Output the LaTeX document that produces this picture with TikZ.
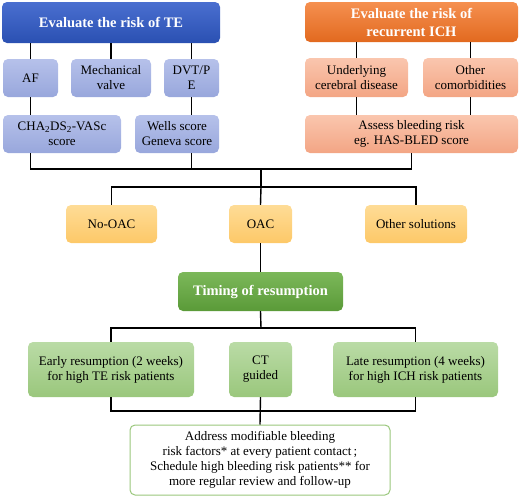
\documentclass[tikz,border=0pt]{standalone}
\usepackage{fontspec}
\setmainfont{Liberation Serif}
\begin{document}
\begin{tikzpicture}[x=1pt,y=-1pt,
  box/.style={rectangle,rounded corners=5pt,align=center,inner sep=1pt,font=\fontsize{13}{15}\selectfont,text=black},
  ttl/.style={box,font=\fontsize{14.5}{18}\selectfont\bfseries,text=white},
  bluet/.style={ttl,top color=blueA,bottom color=blueB},
  oranget/.style={ttl,top color=orA,bottom color=orB},
  greent/.style={ttl,top color=grA,bottom color=grB},
  blueb/.style={box,top color=lbA,bottom color=lbB},
  salb/.style={box,top color=saA,bottom color=saB},
  yelb/.style={box,top color=yeA,bottom color=yeB},
  lgrb/.style={box,top color=lgA,bottom color=lgB},
  wb/.style={box,fill=white,draw=lgB,line width=1pt},
  conn/.style={draw=black,line width=1.4pt}]
\definecolor{blueA}{HTML}{4A6FD0}
\definecolor{blueB}{HTML}{2A50B2}
\definecolor{orA}{HTML}{F59050}
\definecolor{orB}{HTML}{E2691F}
\definecolor{grA}{HTML}{7CB85A}
\definecolor{grB}{HTML}{5A9A38}
\definecolor{lbA}{HTML}{B6C1EA}
\definecolor{lbB}{HTML}{98A7DC}
\definecolor{saA}{HTML}{FAC6AE}
\definecolor{saB}{HTML}{F3A584}
\definecolor{yeA}{HTML}{FEDC96}
\definecolor{yeB}{HTML}{FDC868}
\definecolor{lgA}{HTML}{BADBA6}
\definecolor{lgB}{HTML}{9AC77C}
\useasboundingbox (0,0) rectangle (520,496);
% nodes
\node[bluet,minimum width=218pt,minimum height=41pt] (te) at (111,22.5) {Evaluate the risk of TE};
\node[oranget,minimum width=213pt,minimum height=40pt] (ich) at (411.5,22) {Evaluate the risk of\\recurrent ICH};
\node[blueb,minimum width=55pt,minimum height=38pt] (af) at (30.5,78) {AF};
\node[blueb,minimum width=80pt,minimum height=38pt] (mech) at (111,78) {Mechanical\\valve};
\node[blueb,minimum width=55pt,minimum height=38pt] (dvt) at (191.5,78) {DVT/P\\E};
\node[blueb,minimum width=118pt,minimum height=38pt] (cha) at (62,134) {CHA\textsubscript{2}DS\textsubscript{2}-VASc\\score};
\node[blueb,minimum width=84pt,minimum height=38pt] (wells) at (177,134) {Wells score\\Geneva score};
\node[salb,minimum width=103pt,minimum height=39pt] (under) at (356.5,77.5) {Underlying\\cerebral disease};
\node[salb,minimum width=95pt,minimum height=39pt] (other) at (470.5,77.5) {Other\\comorbidities};
\node[salb,minimum width=213pt,minimum height=38pt] (assess) at (411.5,134) {Assess bleeding risk\\eg. HAS-BLED score};
\node[yelb,minimum width=91pt,minimum height=38pt] (nooac) at (111.5,224) {No-OAC};
\node[yelb,minimum width=63pt,minimum height=38pt] (oac) at (260.5,224) {OAC};
\node[yelb,minimum width=102pt,minimum height=38pt] (othsol) at (416,224) {Other solutions};
\node[greent,minimum width=165pt,minimum height=39pt] (timing) at (260.5,291.5) {Timing of resumption};
\node[lgrb,minimum width=166pt,minimum height=55pt] (early) at (111,369.5) {Early resumption (2 weeks)\\for high TE risk patients};
\node[lgrb,minimum width=63pt,minimum height=55pt] (ct) at (260.5,369.5) {CT\\guided};
\node[lgrb,minimum width=165pt,minimum height=55pt] (late) at (415.5,369.5) {Late resumption (4 weeks)\\for high ICH risk patients};
\node[wb,minimum width=260pt,minimum height=70pt] (addr) at (260,460) {Address modifiable bleeding\\risk factors* at every patient contact\,;\\Schedule high bleeding risk patients** for\\more regular review and follow-up};
% junction coordinates
\coordinate (j1) at (261,169);
\coordinate (j2) at (261,187);
\coordinate (j3) at (261,328);
\coordinate (j4) at (261,411);
% connectors
\draw[conn] (te.south -| af) -- (af.north);
\draw[conn] (te.south -| mech) -- (mech.north);
\draw[conn] (te.south -| dvt) -- (dvt.north);
\draw[conn] (af.south) -- (af |- cha.north);
\draw[conn] (dvt.south) -- (dvt |- wells.north);
\draw[conn] (ich.south -| under) -- (under.north);
\draw[conn] (ich.south -| other) -- (other.north);
\draw[conn] (under.south) -- (under |- assess.north);
\draw[conn] (other.south) -- (other |- assess.north);
\draw[conn] (af |- cha.south) -- (af |- j1) -- (assess |- j1) -- (assess.south);
\draw[conn] (dvt |- wells.south) -- (dvt |- j1);
\draw[conn] (j1) -- (j2);
\draw[conn] (nooac.north) -- (nooac |- j2) -- (othsol |- j2) -- (othsol.north);
\draw[conn] (j2) -- (oac.north);
\draw[conn] (oac.south) -- (timing.north);
\draw[conn] (timing.south) -- (j3);
\draw[conn] (early.north) -- (early |- j3) -- (late |- j3) -- (late.north);
\draw[conn] (early.south) -- (early |- j4) -- (late |- j4) -- (late.south);
\draw[conn] (ct.south) -- (addr.north);
\end{tikzpicture}
\end{document}
